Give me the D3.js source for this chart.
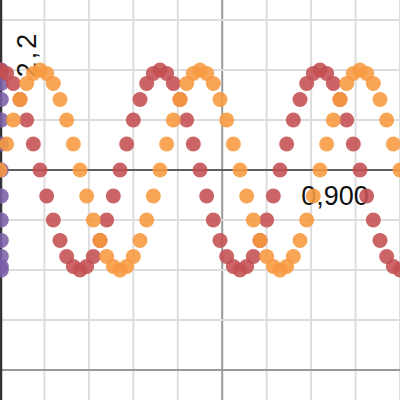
<!DOCTYPE html><html><head><script src="https://cdn.jsdelivr.net/npm/d3@7"></script>
<style>body{margin:0}svg{display:block}</style></head><body><script>
const redAngles = d3.range(0, 901, 15);
const redValues = [2,1.93,1.73,1.41,1,0.52,0,-0.52,-1,-1.41,-1.73,-1.93,-2,-1.93,-1.73,-1.41,-1,-0.52,0,0.52,1,1.41,1.73,1.93,2,1.93,1.73,1.41,1,0.52,0,-0.52,-1,-1.41,-1.73,-1.93,-2,-1.93,-1.73,-1.41,-1,-0.52,0,0.52,1,1.41,1.73,1.93,2,1.93,1.73,1.41,1,0.52,0,-0.52,-1,-1.41,-1.73,-1.93,-2];
const orangeAngles = d3.range(0, 901, 15);
const orangeValues = [0,0.52,1,1.41,1.73,1.93,2,1.93,1.73,1.41,1,0.52,0,-0.52,-1,-1.41,-1.73,-1.93,-2,-1.93,-1.73,-1.41,-1,-0.52,0,0.52,1,1.41,1.73,1.93,2,1.93,1.73,1.41,1,0.52,0,-0.52,-1,-1.41,-1.73,-1.93,-2,-1.93,-1.73,-1.41,-1,-0.52,0,0.52,1,1.41,1.73,1.93,2,1.93,1.73,1.41,1,0.52,0];
const purpleAngles = [3,3,3,3,3,3,3,3,3,3,3,3,3];
const purpleValues = [2,1.93,1.73,1.41,1,0.52,0,-0.52,-1,-1.41,-1.73,-1.93,-2];
const xTicks = d3.range(0, 901, 100);
const yTicks = d3.range(-4, 4, 1);
const labels = [{t:"2,2",x:36,y:54,r:-90},{t:"0,900",x:335,y:205,r:0}];

const W=400,H=400;
const x = d3.scaleLinear().domain([0,900]).range([0,400]);
const y = d3.scaleLinear().domain([-4.6,3.4]).range([400,0]);
const svg = d3.select("body").append("svg").attr("width",W).attr("height",H);
svg.append("rect").attr("width",W).attr("height",H).attr("fill","#fff");
svg.append("g").selectAll("line").data(xTicks).join("line")
 .attr("x1",d=>x(d)).attr("x2",d=>x(d)).attr("y1",0).attr("y2",H)
 .attr("stroke",d=>d===500?"#999":"#ddd").attr("stroke-width",2);
svg.append("g").selectAll("line").data(yTicks).join("line")
 .attr("y1",d=>y(d)).attr("y2",d=>y(d)).attr("x1",0).attr("x2",W)
 .attr("stroke",d=>d===-4?"#999":"#ddd").attr("stroke-width",2);
svg.append("line").attr("x1",0).attr("x2",W).attr("y1",y(0)).attr("y2",y(0)).attr("stroke","#333").attr("stroke-width",1.5);
svg.append("line").attr("x1",1).attr("x2",1).attr("y1",0).attr("y2",H).attr("stroke","#333").attr("stroke-width",2.5);
svg.append("g").selectAll("text").data(labels).join("text")
 .attr("transform",d=>`translate(${d.x},${d.y}) rotate(${d.r})`)
 .attr("text-anchor","middle").attr("font-family","Liberation Sans, Arial, sans-serif")
 .attr("font-size",27).attr("letter-spacing",d=>d.r?3:0).attr("fill","#111").text(d=>d.t);
function dots(xs,vs,c){svg.append("g").selectAll("circle").data(vs).join("circle")
 .attr("cx",(d,i)=>x(xs[i])).attr("cy",d=>y(d)).attr("r",7.5).attr("fill",c).attr("fill-opacity",0.88);}
dots(purpleAngles,purpleValues,"#7b5ea7");
dots(redAngles,redValues,"#c44e52");
dots(orangeAngles,orangeValues,"#f7993f");
</script></body></html>
